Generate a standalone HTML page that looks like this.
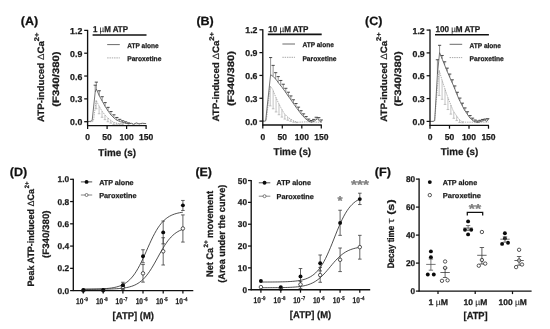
<!DOCTYPE html>
<html lang="en"><head><meta charset="utf-8"><title>ATP-induced calcium responses</title>
<style>
html,body{margin:0;padding:0;background:#fff}
body{width:550px;height:329px;overflow:hidden}
svg{display:block} text{stroke-width:0.25px}
</style></head><body>
<svg width="550" height="329" viewBox="0 0 550 329" text-rendering="geometricPrecision" font-family="'Liberation Sans', sans-serif">
<rect width="550" height="329" fill="#fff"/>
<path d="M96.18 100.39V108.76M94.88 108.76H97.48" stroke="#9c9c9c" stroke-width="0.6" fill="none"/>
<path d="M99.10 106.10V113.76M97.80 113.76H100.40" stroke="#9c9c9c" stroke-width="0.6" fill="none"/>
<path d="M102.03 111.10V117.29M100.73 117.29H103.33" stroke="#9c9c9c" stroke-width="0.6" fill="none"/>
<path d="M104.95 114.98V119.65M103.66 119.65H106.25" stroke="#9c9c9c" stroke-width="0.6" fill="none"/>
<path d="M107.88 118.07V121.75M106.58 121.75H109.18" stroke="#9c9c9c" stroke-width="0.6" fill="none"/>
<path d="M110.80 120.41V123.13M109.50 123.13H112.10" stroke="#9c9c9c" stroke-width="0.6" fill="none"/>
<path d="M113.73 122.46V124.41M112.43 124.41H115.03" stroke="#9c9c9c" stroke-width="0.6" fill="none"/>
<path d="M116.66 123.12V124.31M115.36 124.31H117.95" stroke="#9c9c9c" stroke-width="0.6" fill="none"/>
<path d="M119.58 123.56V124.67M118.28 124.67H120.88" stroke="#9c9c9c" stroke-width="0.6" fill="none"/>
<path d="M122.50 123.42V124.49M121.20 124.49H123.80" stroke="#9c9c9c" stroke-width="0.6" fill="none"/>
<path d="M87.60 121.70 L92.28 121.70 L93.45 120.94 L96.18 100.39 L99.30 106.48 L102.22 111.43 L105.15 115.23 L108.07 118.28 L111.00 120.56 L113.73 122.46 L118.80 123.60 L126.60 123.22 L134.40 123.98 L146.10 123.60" stroke="#9c9c9c" stroke-width="0.8" stroke-dasharray="1.4 0.9" fill="none"/>
<path d="M95.20 92.02V85.17" stroke="#4a4a4a" stroke-width="0.6" fill="none"/>
<path d="M93.61 85.17H96.80" stroke="#222" stroke-width="0.8" fill="none"/>
<path d="M96.34 88.98V82.13" stroke="#4a4a4a" stroke-width="0.6" fill="none"/>
<path d="M94.74 82.13H97.94" stroke="#222" stroke-width="0.8" fill="none"/>
<path d="M99.26 95.74V90.76" stroke="#4a4a4a" stroke-width="0.6" fill="none"/>
<path d="M97.66 90.76H100.86" stroke="#222" stroke-width="0.8" fill="none"/>
<path d="M102.19 101.08V96.70" stroke="#4a4a4a" stroke-width="0.6" fill="none"/>
<path d="M100.59 96.70H103.79" stroke="#222" stroke-width="0.8" fill="none"/>
<path d="M105.11 106.41V102.60" stroke="#4a4a4a" stroke-width="0.6" fill="none"/>
<path d="M103.51 102.60H106.71" stroke="#222" stroke-width="0.8" fill="none"/>
<path d="M108.04 110.99V107.37" stroke="#4a4a4a" stroke-width="0.6" fill="none"/>
<path d="M106.44 107.37H109.64" stroke="#222" stroke-width="0.8" fill="none"/>
<path d="M110.96 114.95V111.52" stroke="#4a4a4a" stroke-width="0.6" fill="none"/>
<path d="M109.36 111.52H112.56" stroke="#222" stroke-width="0.8" fill="none"/>
<path d="M113.89 117.86V114.81" stroke="#4a4a4a" stroke-width="0.6" fill="none"/>
<path d="M112.29 114.81H115.49" stroke="#222" stroke-width="0.8" fill="none"/>
<path d="M116.81 120.15V117.48" stroke="#4a4a4a" stroke-width="0.6" fill="none"/>
<path d="M115.21 117.48H118.41" stroke="#222" stroke-width="0.8" fill="none"/>
<path d="M119.74 121.43V119.33" stroke="#4a4a4a" stroke-width="0.6" fill="none"/>
<path d="M118.14 119.33H121.34" stroke="#222" stroke-width="0.8" fill="none"/>
<path d="M122.66 122.31V120.78" stroke="#4a4a4a" stroke-width="0.6" fill="none"/>
<path d="M121.06 120.78H124.26" stroke="#222" stroke-width="0.8" fill="none"/>
<path d="M125.59 123.12V121.82" stroke="#4a4a4a" stroke-width="0.6" fill="none"/>
<path d="M123.99 121.82H127.19" stroke="#222" stroke-width="0.8" fill="none"/>
<path d="M128.51 123.97V122.90" stroke="#4a4a4a" stroke-width="0.6" fill="none"/>
<path d="M126.91 122.90H130.11" stroke="#222" stroke-width="0.8" fill="none"/>
<path d="M87.60 121.70 L90.33 121.32 L92.16 120.56 L95.20 92.02 L96.34 88.98 L99.30 95.83 L102.22 101.15 L105.15 106.48 L108.07 111.05 L111.00 115.00 L113.92 117.90 L116.85 120.18 L120.36 121.70 L124.65 122.84 L128.55 123.98 L131.28 123.22 L133.62 124.36 L136.35 122.84 L139.08 123.98 L142.20 123.22 L146.10 123.60" stroke="#505050" stroke-width="0.8" fill="none" stroke-linejoin="round"/>
<path d="M87.60 29.88V126.10" stroke="#111" stroke-width="1.35" fill="none"/>
<path d="M87.10 125.60H146.60" stroke="#111" stroke-width="1.35" fill="none"/>
<path d="M84.20 121.70H87.60" stroke="#111" stroke-width="1.25" fill="none"/>
<text x="82.30" y="125.30" font-size="8.6" text-anchor="end" fill="#1a1a1a" stroke="#1a1a1a" font-weight="bold" textLength="12.20" lengthAdjust="spacingAndGlyphs" >0.0</text>
<path d="M84.20 98.87H87.60" stroke="#111" stroke-width="1.25" fill="none"/>
<text x="82.30" y="102.47" font-size="8.6" text-anchor="end" fill="#1a1a1a" stroke="#1a1a1a" font-weight="bold" textLength="12.20" lengthAdjust="spacingAndGlyphs" >0.3</text>
<path d="M84.20 76.04H87.60" stroke="#111" stroke-width="1.25" fill="none"/>
<text x="82.30" y="79.64" font-size="8.6" text-anchor="end" fill="#1a1a1a" stroke="#1a1a1a" font-weight="bold" textLength="12.20" lengthAdjust="spacingAndGlyphs" >0.6</text>
<path d="M84.20 53.21H87.60" stroke="#111" stroke-width="1.25" fill="none"/>
<text x="82.30" y="56.81" font-size="8.6" text-anchor="end" fill="#1a1a1a" stroke="#1a1a1a" font-weight="bold" textLength="12.20" lengthAdjust="spacingAndGlyphs" >0.9</text>
<path d="M84.20 30.38H87.60" stroke="#111" stroke-width="1.25" fill="none"/>
<text x="82.30" y="33.98" font-size="8.6" text-anchor="end" fill="#1a1a1a" stroke="#1a1a1a" font-weight="bold" textLength="12.20" lengthAdjust="spacingAndGlyphs" >1.2</text>
<path d="M87.60 125.60V129.00" stroke="#111" stroke-width="1.25" fill="none"/>
<text x="87.60" y="140.40" font-size="8.6" text-anchor="middle" fill="#1a1a1a" stroke="#1a1a1a" font-weight="bold" textLength="4.75" lengthAdjust="spacingAndGlyphs" >0</text>
<path d="M107.10 125.60V129.00" stroke="#111" stroke-width="1.25" fill="none"/>
<text x="107.10" y="140.40" font-size="8.6" text-anchor="middle" fill="#1a1a1a" stroke="#1a1a1a" font-weight="bold" textLength="9.50" lengthAdjust="spacingAndGlyphs" >50</text>
<path d="M126.60 125.60V129.00" stroke="#111" stroke-width="1.25" fill="none"/>
<text x="126.60" y="140.40" font-size="8.6" text-anchor="middle" fill="#1a1a1a" stroke="#1a1a1a" font-weight="bold" textLength="14.25" lengthAdjust="spacingAndGlyphs" >100</text>
<path d="M146.10 125.60V129.00" stroke="#111" stroke-width="1.25" fill="none"/>
<text x="146.10" y="140.40" font-size="8.6" text-anchor="middle" fill="#1a1a1a" stroke="#1a1a1a" font-weight="bold" textLength="14.25" lengthAdjust="spacingAndGlyphs" >150</text>
<text x="117.15" y="155.60" font-size="10.0" text-anchor="middle" fill="#1a1a1a" stroke="#1a1a1a" font-weight="bold" textLength="37.60" lengthAdjust="spacingAndGlyphs" >Time (s)</text>
<path d="M92.60 35.00H146.50" stroke="#111" stroke-width="1.6" fill="none"/>
<text x="93.00" y="32.20" font-size="8.5" text-anchor="start" fill="#1a1a1a" stroke="#1a1a1a" font-weight="bold" textLength="35.00" lengthAdjust="spacingAndGlyphs" >1 <tspan font-weight="normal" stroke-width="0.1">µ</tspan>M ATP</text>
<path d="M107.20 44.60H119.80" stroke="#5a5a5a" stroke-width="0.9" fill="none"/>
<path d="M107.20 57.90H119.80" stroke="#9c9c9c" stroke-width="0.9" stroke-dasharray="1.4 0.9" fill="none"/>
<text x="127.20" y="47.90" font-size="6.9" text-anchor="start" fill="#1a1a1a" stroke="#1a1a1a" font-weight="bold" textLength="31.40" lengthAdjust="spacingAndGlyphs" >ATP alone</text>
<text x="127.20" y="61.20" font-size="6.9" text-anchor="start" fill="#1a1a1a" stroke="#1a1a1a" font-weight="bold" textLength="34.20" lengthAdjust="spacingAndGlyphs" >Paroxetine</text>
<text transform="translate(44.20 122.10) rotate(-90)" font-size="9.3" font-weight="bold" fill="#1a1a1a" stroke="#1a1a1a" textLength="81.0" lengthAdjust="spacingAndGlyphs">ATP-induced <tspan font-weight="normal" stroke-width="0.1">Δ</tspan>Ca</text>
<text transform="translate(38.60 41.30) rotate(-90)" font-size="6.8" font-weight="bold" fill="#1a1a1a" stroke="#1a1a1a" textLength="8.6" lengthAdjust="spacingAndGlyphs">2+</text>
<text transform="translate(58.70 106.70) rotate(-90)" font-size="9.3" font-weight="bold" fill="#1a1a1a" stroke="#1a1a1a" textLength="55.2" lengthAdjust="spacingAndGlyphs">(F340/380)</text>
<text x="20.80" y="25.30" font-size="12.0" text-anchor="start" fill="#111" stroke="#111" font-weight="bold" textLength="17.40" lengthAdjust="spacingAndGlyphs" >(A)</text>
<path d="M270.21 86.09V105.88M268.91 105.88H271.51" stroke="#9c9c9c" stroke-width="0.6" fill="none"/>
<path d="M273.13 90.61V108.82M271.83 108.82H274.44" stroke="#9c9c9c" stroke-width="0.6" fill="none"/>
<path d="M276.06 97.70V111.97M274.76 111.97H277.36" stroke="#9c9c9c" stroke-width="0.6" fill="none"/>
<path d="M278.99 103.98V114.74M277.69 114.74H280.29" stroke="#9c9c9c" stroke-width="0.6" fill="none"/>
<path d="M281.91 109.49V117.10M280.61 117.10H283.21" stroke="#9c9c9c" stroke-width="0.6" fill="none"/>
<path d="M284.84 114.14V119.06M283.54 119.06H286.14" stroke="#9c9c9c" stroke-width="0.6" fill="none"/>
<path d="M287.76 117.10V120.24M286.46 120.24H289.06" stroke="#9c9c9c" stroke-width="0.6" fill="none"/>
<path d="M290.69 119.16V121.29M289.38 121.29H291.99" stroke="#9c9c9c" stroke-width="0.6" fill="none"/>
<path d="M293.61 120.87V122.24M292.31 122.24H294.91" stroke="#9c9c9c" stroke-width="0.6" fill="none"/>
<path d="M296.54 121.84V122.59M295.24 122.59H297.84" stroke="#9c9c9c" stroke-width="0.6" fill="none"/>
<path d="M262.80 121.10 L265.92 121.10 L266.31 120.34 L270.21 86.09 L272.55 89.14 L275.28 95.99 L278.40 102.84 L281.13 108.16 L284.25 113.49 L286.98 116.53 L290.10 118.82 L294.00 121.10 L297.90 122.24 L305.70 121.86 L321.30 122.24" stroke="#9c9c9c" stroke-width="0.8" stroke-dasharray="1.4 0.9" fill="none"/>
<path d="M270.60 74.68V57.56" stroke="#4a4a4a" stroke-width="0.6" fill="none"/>
<path d="M269.00 57.56H272.20" stroke="#222" stroke-width="0.8" fill="none"/>
<path d="M273.13 76.45V65.38" stroke="#4a4a4a" stroke-width="0.6" fill="none"/>
<path d="M271.53 65.38H274.74" stroke="#222" stroke-width="0.8" fill="none"/>
<path d="M275.67 79.15V72.68" stroke="#4a4a4a" stroke-width="0.6" fill="none"/>
<path d="M274.07 72.68H277.27" stroke="#222" stroke-width="0.8" fill="none"/>
<path d="M278.21 82.45V76.60" stroke="#4a4a4a" stroke-width="0.6" fill="none"/>
<path d="M276.61 76.60H279.81" stroke="#222" stroke-width="0.8" fill="none"/>
<path d="M280.74 85.71V80.46" stroke="#4a4a4a" stroke-width="0.6" fill="none"/>
<path d="M279.14 80.46H282.34" stroke="#222" stroke-width="0.8" fill="none"/>
<path d="M283.28 88.97V84.22" stroke="#4a4a4a" stroke-width="0.6" fill="none"/>
<path d="M281.68 84.22H284.88" stroke="#222" stroke-width="0.8" fill="none"/>
<path d="M285.81 92.56V88.30" stroke="#4a4a4a" stroke-width="0.6" fill="none"/>
<path d="M284.21 88.30H287.41" stroke="#222" stroke-width="0.8" fill="none"/>
<path d="M288.35 96.26V92.21" stroke="#4a4a4a" stroke-width="0.6" fill="none"/>
<path d="M286.75 92.21H289.95" stroke="#222" stroke-width="0.8" fill="none"/>
<path d="M290.88 99.79V95.91" stroke="#4a4a4a" stroke-width="0.6" fill="none"/>
<path d="M289.28 95.91H292.48" stroke="#222" stroke-width="0.8" fill="none"/>
<path d="M293.42 103.50V99.79" stroke="#4a4a4a" stroke-width="0.6" fill="none"/>
<path d="M291.81 99.79H295.02" stroke="#222" stroke-width="0.8" fill="none"/>
<path d="M295.95 107.08V103.52" stroke="#4a4a4a" stroke-width="0.6" fill="none"/>
<path d="M294.35 103.52H297.55" stroke="#222" stroke-width="0.8" fill="none"/>
<path d="M298.49 110.52V107.15" stroke="#4a4a4a" stroke-width="0.6" fill="none"/>
<path d="M296.88 107.15H300.09" stroke="#222" stroke-width="0.8" fill="none"/>
<path d="M301.02 113.82V110.70" stroke="#4a4a4a" stroke-width="0.6" fill="none"/>
<path d="M299.42 110.70H302.62" stroke="#222" stroke-width="0.8" fill="none"/>
<path d="M303.56 116.72V113.85" stroke="#4a4a4a" stroke-width="0.6" fill="none"/>
<path d="M301.95 113.85H305.16" stroke="#222" stroke-width="0.8" fill="none"/>
<path d="M306.09 119.14V116.56" stroke="#4a4a4a" stroke-width="0.6" fill="none"/>
<path d="M304.49 116.56H307.69" stroke="#222" stroke-width="0.8" fill="none"/>
<path d="M308.62 121.17V119.08" stroke="#4a4a4a" stroke-width="0.6" fill="none"/>
<path d="M307.02 119.08H310.23" stroke="#222" stroke-width="0.8" fill="none"/>
<path d="M311.16 122.10V120.50" stroke="#4a4a4a" stroke-width="0.6" fill="none"/>
<path d="M309.56 120.50H312.76" stroke="#222" stroke-width="0.8" fill="none"/>
<path d="M313.69 121.34V119.40" stroke="#4a4a4a" stroke-width="0.6" fill="none"/>
<path d="M312.09 119.40H315.30" stroke="#222" stroke-width="0.8" fill="none"/>
<path d="M316.23 119.67V117.24" stroke="#4a4a4a" stroke-width="0.6" fill="none"/>
<path d="M314.63 117.24H317.83" stroke="#222" stroke-width="0.8" fill="none"/>
<path d="M318.76 120.15V117.62" stroke="#4a4a4a" stroke-width="0.6" fill="none"/>
<path d="M317.16 117.62H320.37" stroke="#222" stroke-width="0.8" fill="none"/>
<path d="M321.30 122.24V119.96" stroke="#4a4a4a" stroke-width="0.6" fill="none"/>
<path d="M319.70 119.96H322.90" stroke="#222" stroke-width="0.8" fill="none"/>
<path d="M262.80 121.10 L264.75 121.10 L265.73 120.34 L270.60 74.68 L273.33 76.58 L276.45 80.01 L279.18 83.81 L282.30 87.62 L285.03 91.42 L288.15 95.99 L290.88 99.79 L294.00 104.36 L296.73 108.16 L299.85 112.35 L302.58 115.77 L305.70 118.82 L308.43 121.10 L311.55 122.24 L314.28 121.10 L317.40 118.82 L319.74 121.10 L321.30 122.24" stroke="#505050" stroke-width="0.8" fill="none" stroke-linejoin="round"/>
<path d="M262.80 29.28V125.50" stroke="#111" stroke-width="1.35" fill="none"/>
<path d="M262.30 125.00H321.80" stroke="#111" stroke-width="1.35" fill="none"/>
<path d="M259.40 121.10H262.80" stroke="#111" stroke-width="1.25" fill="none"/>
<text x="257.50" y="124.70" font-size="8.6" text-anchor="end" fill="#1a1a1a" stroke="#1a1a1a" font-weight="bold" textLength="12.20" lengthAdjust="spacingAndGlyphs" >0.0</text>
<path d="M259.40 98.27H262.80" stroke="#111" stroke-width="1.25" fill="none"/>
<text x="257.50" y="101.87" font-size="8.6" text-anchor="end" fill="#1a1a1a" stroke="#1a1a1a" font-weight="bold" textLength="12.20" lengthAdjust="spacingAndGlyphs" >0.3</text>
<path d="M259.40 75.44H262.80" stroke="#111" stroke-width="1.25" fill="none"/>
<text x="257.50" y="79.04" font-size="8.6" text-anchor="end" fill="#1a1a1a" stroke="#1a1a1a" font-weight="bold" textLength="12.20" lengthAdjust="spacingAndGlyphs" >0.6</text>
<path d="M259.40 52.61H262.80" stroke="#111" stroke-width="1.25" fill="none"/>
<text x="257.50" y="56.21" font-size="8.6" text-anchor="end" fill="#1a1a1a" stroke="#1a1a1a" font-weight="bold" textLength="12.20" lengthAdjust="spacingAndGlyphs" >0.9</text>
<path d="M259.40 29.78H262.80" stroke="#111" stroke-width="1.25" fill="none"/>
<text x="257.50" y="33.38" font-size="8.6" text-anchor="end" fill="#1a1a1a" stroke="#1a1a1a" font-weight="bold" textLength="12.20" lengthAdjust="spacingAndGlyphs" >1.2</text>
<path d="M262.80 125.00V128.40" stroke="#111" stroke-width="1.25" fill="none"/>
<text x="262.80" y="139.80" font-size="8.6" text-anchor="middle" fill="#1a1a1a" stroke="#1a1a1a" font-weight="bold" textLength="4.75" lengthAdjust="spacingAndGlyphs" >0</text>
<path d="M282.30 125.00V128.40" stroke="#111" stroke-width="1.25" fill="none"/>
<text x="282.30" y="139.80" font-size="8.6" text-anchor="middle" fill="#1a1a1a" stroke="#1a1a1a" font-weight="bold" textLength="9.50" lengthAdjust="spacingAndGlyphs" >50</text>
<path d="M301.80 125.00V128.40" stroke="#111" stroke-width="1.25" fill="none"/>
<text x="301.80" y="139.80" font-size="8.6" text-anchor="middle" fill="#1a1a1a" stroke="#1a1a1a" font-weight="bold" textLength="14.25" lengthAdjust="spacingAndGlyphs" >100</text>
<path d="M321.30 125.00V128.40" stroke="#111" stroke-width="1.25" fill="none"/>
<text x="321.30" y="139.80" font-size="8.6" text-anchor="middle" fill="#1a1a1a" stroke="#1a1a1a" font-weight="bold" textLength="14.25" lengthAdjust="spacingAndGlyphs" >150</text>
<text x="292.35" y="155.00" font-size="10.0" text-anchor="middle" fill="#1a1a1a" stroke="#1a1a1a" font-weight="bold" textLength="37.60" lengthAdjust="spacingAndGlyphs" >Time (s)</text>
<path d="M267.80 34.40H321.70" stroke="#111" stroke-width="1.6" fill="none"/>
<text x="268.20" y="31.60" font-size="8.5" text-anchor="start" fill="#1a1a1a" stroke="#1a1a1a" font-weight="bold" textLength="40.20" lengthAdjust="spacingAndGlyphs" >10 <tspan font-weight="normal" stroke-width="0.1">µ</tspan>M ATP</text>
<path d="M282.40 44.00H295.00" stroke="#5a5a5a" stroke-width="0.9" fill="none"/>
<path d="M282.40 57.30H295.00" stroke="#9c9c9c" stroke-width="0.9" stroke-dasharray="1.4 0.9" fill="none"/>
<text x="302.40" y="47.30" font-size="6.9" text-anchor="start" fill="#1a1a1a" stroke="#1a1a1a" font-weight="bold" textLength="31.40" lengthAdjust="spacingAndGlyphs" >ATP alone</text>
<text x="302.40" y="60.60" font-size="6.9" text-anchor="start" fill="#1a1a1a" stroke="#1a1a1a" font-weight="bold" textLength="34.20" lengthAdjust="spacingAndGlyphs" >Paroxetine</text>
<text transform="translate(219.40 121.50) rotate(-90)" font-size="9.3" font-weight="bold" fill="#1a1a1a" stroke="#1a1a1a" textLength="81.0" lengthAdjust="spacingAndGlyphs">ATP-induced <tspan font-weight="normal" stroke-width="0.1">Δ</tspan>Ca</text>
<text transform="translate(213.80 40.70) rotate(-90)" font-size="6.8" font-weight="bold" fill="#1a1a1a" stroke="#1a1a1a" textLength="8.6" lengthAdjust="spacingAndGlyphs">2+</text>
<text transform="translate(233.90 106.10) rotate(-90)" font-size="9.3" font-weight="bold" fill="#1a1a1a" stroke="#1a1a1a" textLength="55.2" lengthAdjust="spacingAndGlyphs">(F340/380)</text>
<text x="196.40" y="24.70" font-size="12.0" text-anchor="start" fill="#111" stroke="#111" font-weight="bold" textLength="17.40" lengthAdjust="spacingAndGlyphs" >(B)</text>
<path d="M439.17 70.41V95.53M437.87 95.53H440.47" stroke="#9c9c9c" stroke-width="0.6" fill="none"/>
<path d="M442.09 80.28V99.30M440.79 99.30H443.39" stroke="#9c9c9c" stroke-width="0.6" fill="none"/>
<path d="M445.01 89.07V104.43M443.71 104.43H446.31" stroke="#9c9c9c" stroke-width="0.6" fill="none"/>
<path d="M447.94 97.72V109.54M446.64 109.54H449.24" stroke="#9c9c9c" stroke-width="0.6" fill="none"/>
<path d="M450.87 104.98V114.13M449.56 114.13H452.17" stroke="#9c9c9c" stroke-width="0.6" fill="none"/>
<path d="M453.79 111.73V118.30M452.49 118.30H455.09" stroke="#9c9c9c" stroke-width="0.6" fill="none"/>
<path d="M456.71 116.06V120.60M455.41 120.60H458.01" stroke="#9c9c9c" stroke-width="0.6" fill="none"/>
<path d="M459.64 119.81V122.44M458.34 122.44H460.94" stroke="#9c9c9c" stroke-width="0.6" fill="none"/>
<path d="M462.56 121.61V122.68M461.26 122.68H463.87" stroke="#9c9c9c" stroke-width="0.6" fill="none"/>
<path d="M430.00 121.40 L433.12 121.40 L434.68 120.64 L437.41 87.16 L439.17 70.41 L442.32 81.07 L447.82 97.43 L453.28 110.97 L458.78 119.12 L461.59 121.40 L465.10 122.16 L488.50 122.16" stroke="#9c9c9c" stroke-width="0.8" stroke-dasharray="1.4 0.9" fill="none"/>
<path d="M437.41 74.22V59.76" stroke="#4a4a4a" stroke-width="0.6" fill="none"/>
<path d="M435.81 59.76H439.01" stroke="#222" stroke-width="0.8" fill="none"/>
<path d="M439.59 52.53V45.30" stroke="#4a4a4a" stroke-width="0.6" fill="none"/>
<path d="M437.99 45.30H441.19" stroke="#222" stroke-width="0.8" fill="none"/>
<path d="M442.13 58.89V55.47" stroke="#4a4a4a" stroke-width="0.6" fill="none"/>
<path d="M440.53 55.47H443.73" stroke="#222" stroke-width="0.8" fill="none"/>
<path d="M444.66 65.14V61.80" stroke="#4a4a4a" stroke-width="0.6" fill="none"/>
<path d="M443.06 61.80H446.26" stroke="#222" stroke-width="0.8" fill="none"/>
<path d="M447.20 71.39V68.13" stroke="#4a4a4a" stroke-width="0.6" fill="none"/>
<path d="M445.60 68.13H448.80" stroke="#222" stroke-width="0.8" fill="none"/>
<path d="M449.73 77.21V74.05" stroke="#4a4a4a" stroke-width="0.6" fill="none"/>
<path d="M448.13 74.05H451.33" stroke="#222" stroke-width="0.8" fill="none"/>
<path d="M452.27 82.90V79.82" stroke="#4a4a4a" stroke-width="0.6" fill="none"/>
<path d="M450.67 79.82H453.87" stroke="#222" stroke-width="0.8" fill="none"/>
<path d="M454.80 88.94V85.93" stroke="#4a4a4a" stroke-width="0.6" fill="none"/>
<path d="M453.20 85.93H456.40" stroke="#222" stroke-width="0.8" fill="none"/>
<path d="M457.34 95.22V92.28" stroke="#4a4a4a" stroke-width="0.6" fill="none"/>
<path d="M455.74 92.28H458.94" stroke="#222" stroke-width="0.8" fill="none"/>
<path d="M459.87 100.96V98.07" stroke="#4a4a4a" stroke-width="0.6" fill="none"/>
<path d="M458.27 98.07H461.47" stroke="#222" stroke-width="0.8" fill="none"/>
<path d="M462.41 105.98V103.15" stroke="#4a4a4a" stroke-width="0.6" fill="none"/>
<path d="M460.81 103.15H464.01" stroke="#222" stroke-width="0.8" fill="none"/>
<path d="M464.94 110.67V107.91" stroke="#4a4a4a" stroke-width="0.6" fill="none"/>
<path d="M463.34 107.91H466.54" stroke="#222" stroke-width="0.8" fill="none"/>
<path d="M467.48 114.45V111.75" stroke="#4a4a4a" stroke-width="0.6" fill="none"/>
<path d="M465.88 111.75H469.08" stroke="#222" stroke-width="0.8" fill="none"/>
<path d="M470.01 118.06V115.55" stroke="#4a4a4a" stroke-width="0.6" fill="none"/>
<path d="M468.41 115.55H471.61" stroke="#222" stroke-width="0.8" fill="none"/>
<path d="M472.55 120.28V118.13" stroke="#4a4a4a" stroke-width="0.6" fill="none"/>
<path d="M470.95 118.13H474.15" stroke="#222" stroke-width="0.8" fill="none"/>
<path d="M475.08 121.78V120.01" stroke="#4a4a4a" stroke-width="0.6" fill="none"/>
<path d="M473.48 120.01H476.68" stroke="#222" stroke-width="0.8" fill="none"/>
<path d="M477.62 122.53V121.01" stroke="#4a4a4a" stroke-width="0.6" fill="none"/>
<path d="M476.02 121.01H479.22" stroke="#222" stroke-width="0.8" fill="none"/>
<path d="M480.15 121.79V120.27" stroke="#4a4a4a" stroke-width="0.6" fill="none"/>
<path d="M478.55 120.27H481.75" stroke="#222" stroke-width="0.8" fill="none"/>
<path d="M482.69 120.96V119.44" stroke="#4a4a4a" stroke-width="0.6" fill="none"/>
<path d="M481.09 119.44H484.29" stroke="#222" stroke-width="0.8" fill="none"/>
<path d="M485.22 120.56V119.04" stroke="#4a4a4a" stroke-width="0.6" fill="none"/>
<path d="M483.62 119.04H486.82" stroke="#222" stroke-width="0.8" fill="none"/>
<path d="M487.76 120.20V118.68" stroke="#4a4a4a" stroke-width="0.6" fill="none"/>
<path d="M486.16 118.68H489.36" stroke="#222" stroke-width="0.8" fill="none"/>
<path d="M430.00 121.40 L433.12 121.40 L434.68 120.64 L437.41 74.22 L439.59 52.53 L442.32 59.38 L447.82 72.92 L453.28 85.18 L458.78 98.80 L464.28 109.68 L469.74 117.82 L473.84 121.40 L477.58 122.54 L481.48 121.40 L484.60 120.26 L486.94 121.40 L488.50 119.12" stroke="#505050" stroke-width="0.8" fill="none" stroke-linejoin="round"/>
<path d="M430.00 29.58V125.80" stroke="#111" stroke-width="1.35" fill="none"/>
<path d="M429.50 125.30H489.00" stroke="#111" stroke-width="1.35" fill="none"/>
<path d="M426.60 121.40H430.00" stroke="#111" stroke-width="1.25" fill="none"/>
<text x="424.70" y="125.00" font-size="8.6" text-anchor="end" fill="#1a1a1a" stroke="#1a1a1a" font-weight="bold" textLength="12.20" lengthAdjust="spacingAndGlyphs" >0.0</text>
<path d="M426.60 98.57H430.00" stroke="#111" stroke-width="1.25" fill="none"/>
<text x="424.70" y="102.17" font-size="8.6" text-anchor="end" fill="#1a1a1a" stroke="#1a1a1a" font-weight="bold" textLength="12.20" lengthAdjust="spacingAndGlyphs" >0.3</text>
<path d="M426.60 75.74H430.00" stroke="#111" stroke-width="1.25" fill="none"/>
<text x="424.70" y="79.34" font-size="8.6" text-anchor="end" fill="#1a1a1a" stroke="#1a1a1a" font-weight="bold" textLength="12.20" lengthAdjust="spacingAndGlyphs" >0.6</text>
<path d="M426.60 52.91H430.00" stroke="#111" stroke-width="1.25" fill="none"/>
<text x="424.70" y="56.51" font-size="8.6" text-anchor="end" fill="#1a1a1a" stroke="#1a1a1a" font-weight="bold" textLength="12.20" lengthAdjust="spacingAndGlyphs" >0.9</text>
<path d="M426.60 30.08H430.00" stroke="#111" stroke-width="1.25" fill="none"/>
<text x="424.70" y="33.68" font-size="8.6" text-anchor="end" fill="#1a1a1a" stroke="#1a1a1a" font-weight="bold" textLength="12.20" lengthAdjust="spacingAndGlyphs" >1.2</text>
<path d="M430.00 125.30V128.70" stroke="#111" stroke-width="1.25" fill="none"/>
<text x="430.00" y="140.10" font-size="8.6" text-anchor="middle" fill="#1a1a1a" stroke="#1a1a1a" font-weight="bold" textLength="4.75" lengthAdjust="spacingAndGlyphs" >0</text>
<path d="M449.50 125.30V128.70" stroke="#111" stroke-width="1.25" fill="none"/>
<text x="449.50" y="140.10" font-size="8.6" text-anchor="middle" fill="#1a1a1a" stroke="#1a1a1a" font-weight="bold" textLength="9.50" lengthAdjust="spacingAndGlyphs" >50</text>
<path d="M469.00 125.30V128.70" stroke="#111" stroke-width="1.25" fill="none"/>
<text x="469.00" y="140.10" font-size="8.6" text-anchor="middle" fill="#1a1a1a" stroke="#1a1a1a" font-weight="bold" textLength="14.25" lengthAdjust="spacingAndGlyphs" >100</text>
<path d="M488.50 125.30V128.70" stroke="#111" stroke-width="1.25" fill="none"/>
<text x="488.50" y="140.10" font-size="8.6" text-anchor="middle" fill="#1a1a1a" stroke="#1a1a1a" font-weight="bold" textLength="14.25" lengthAdjust="spacingAndGlyphs" >150</text>
<text x="459.55" y="155.30" font-size="10.0" text-anchor="middle" fill="#1a1a1a" stroke="#1a1a1a" font-weight="bold" textLength="37.60" lengthAdjust="spacingAndGlyphs" >Time (s)</text>
<path d="M435.00 34.70H488.90" stroke="#111" stroke-width="1.6" fill="none"/>
<text x="435.40" y="31.90" font-size="8.5" text-anchor="start" fill="#1a1a1a" stroke="#1a1a1a" font-weight="bold" textLength="44.80" lengthAdjust="spacingAndGlyphs" >100 <tspan font-weight="normal" stroke-width="0.1">µ</tspan>M ATP</text>
<path d="M449.60 44.30H462.20" stroke="#5a5a5a" stroke-width="0.9" fill="none"/>
<path d="M449.60 57.60H462.20" stroke="#9c9c9c" stroke-width="0.9" stroke-dasharray="1.4 0.9" fill="none"/>
<text x="469.60" y="47.60" font-size="6.9" text-anchor="start" fill="#1a1a1a" stroke="#1a1a1a" font-weight="bold" textLength="31.40" lengthAdjust="spacingAndGlyphs" >ATP alone</text>
<text x="469.60" y="60.90" font-size="6.9" text-anchor="start" fill="#1a1a1a" stroke="#1a1a1a" font-weight="bold" textLength="34.20" lengthAdjust="spacingAndGlyphs" >Paroxetine</text>
<text transform="translate(386.60 121.80) rotate(-90)" font-size="9.3" font-weight="bold" fill="#1a1a1a" stroke="#1a1a1a" textLength="81.0" lengthAdjust="spacingAndGlyphs">ATP-induced <tspan font-weight="normal" stroke-width="0.1">Δ</tspan>Ca</text>
<text transform="translate(381.00 41.00) rotate(-90)" font-size="6.8" font-weight="bold" fill="#1a1a1a" stroke="#1a1a1a" textLength="8.6" lengthAdjust="spacingAndGlyphs">2+</text>
<text transform="translate(401.10 106.40) rotate(-90)" font-size="9.3" font-weight="bold" fill="#1a1a1a" stroke="#1a1a1a" textLength="55.2" lengthAdjust="spacingAndGlyphs">(F340/380)</text>
<text x="365.10" y="25.00" font-size="12.0" text-anchor="start" fill="#111" stroke="#111" font-weight="bold" textLength="17.40" lengthAdjust="spacingAndGlyphs" >(C)</text>
<path d="M83.30 289.21 L84.96 289.20 L86.62 289.19 L88.28 289.17 L89.93 289.16 L91.59 289.13 L93.25 289.10 L94.91 289.07 L96.57 289.03 L98.22 288.98 L99.88 288.92 L101.54 288.85 L103.20 288.76 L104.86 288.66 L106.52 288.53 L108.18 288.38 L109.83 288.19 L111.49 287.97 L113.15 287.70 L114.81 287.38 L116.47 286.99 L118.12 286.52 L119.78 285.97 L121.44 285.31 L123.10 284.52 L124.76 283.59 L126.42 282.49 L128.08 281.21 L129.73 279.71 L131.39 277.98 L133.05 276.00 L134.71 273.75 L136.37 271.22 L138.03 268.42 L139.68 265.36 L141.34 262.06 L143.00 258.57 L144.66 254.92 L146.32 251.19 L147.98 247.44 L149.63 243.74 L151.29 240.16 L152.95 236.74 L154.61 233.55 L156.27 230.60 L157.93 227.92 L159.58 225.51 L161.24 223.38 L162.90 221.51 L164.56 219.89 L166.22 218.49 L167.88 217.29 L169.53 216.27 L171.19 215.40 L172.85 214.67 L174.51 214.06 L176.17 213.55 L177.83 213.12 L179.48 212.76 L181.14 212.46 L182.80 212.21" stroke="#222" stroke-width="0.8" fill="none"/>
<path d="M83.30 289.25 L84.96 289.25 L86.62 289.25 L88.28 289.24 L89.93 289.24 L91.59 289.23 L93.25 289.23 L94.91 289.22 L96.57 289.21 L98.22 289.20 L99.88 289.19 L101.54 289.17 L103.20 289.15 L104.86 289.12 L106.52 289.09 L108.18 289.06 L109.83 289.01 L111.49 288.96 L113.15 288.90 L114.81 288.82 L116.47 288.73 L118.12 288.62 L119.78 288.48 L121.44 288.32 L123.10 288.12 L124.76 287.89 L126.42 287.60 L128.08 287.26 L129.73 286.85 L131.39 286.37 L133.05 285.79 L134.71 285.10 L136.37 284.29 L138.03 283.33 L139.68 282.22 L141.34 280.93 L143.00 279.44 L144.66 277.74 L146.32 275.82 L147.98 273.67 L149.63 271.31 L151.29 268.75 L152.95 266.00 L154.61 263.12 L156.27 260.14 L157.93 257.11 L159.58 254.09 L161.24 251.14 L162.90 248.30 L164.56 245.62 L166.22 243.12 L167.88 240.84 L169.53 238.78 L171.19 236.94 L172.85 235.31 L174.51 233.90 L176.17 232.67 L177.83 231.62 L179.48 230.71 L181.14 229.95 L182.80 229.30" stroke="#222" stroke-width="0.8" fill="none"/>
<path d="M122.90 284.48V289.49M121.10 284.48H124.70M121.10 289.49H124.70" stroke="#3c3c3c" stroke-width="0.8" fill="none"/>
<path d="M143.00 264.56V282.14M141.20 264.56H144.80M141.20 282.14H144.80" stroke="#3c3c3c" stroke-width="0.8" fill="none"/>
<path d="M163.20 237.73V265.00M161.40 237.73H165.00M161.40 265.00H165.00" stroke="#3c3c3c" stroke-width="0.8" fill="none"/>
<path d="M182.90 214.92V242.07M181.10 214.92H184.70M181.10 242.07H184.70" stroke="#3c3c3c" stroke-width="0.8" fill="none"/>
<path d="M122.90 282.25V288.37M121.10 282.25H124.70M121.10 288.37H124.70" stroke="#3c3c3c" stroke-width="0.8" fill="none"/>
<path d="M143.00 249.75V262.78M141.20 249.75H144.80M141.20 262.78H144.80" stroke="#3c3c3c" stroke-width="0.8" fill="none"/>
<path d="M163.20 221.04V243.85M161.40 221.04H165.00M161.40 243.85H165.00" stroke="#3c3c3c" stroke-width="0.8" fill="none"/>
<path d="M182.90 200.45V210.46M181.10 200.45H184.70M181.10 210.46H184.70" stroke="#3c3c3c" stroke-width="0.8" fill="none"/>
<circle cx="83.30" cy="290.60" r="1.75" fill="#fff" stroke="#222" stroke-width="0.75"/>
<circle cx="103.20" cy="290.38" r="1.75" fill="#fff" stroke="#222" stroke-width="0.75"/>
<circle cx="122.90" cy="286.93" r="1.75" fill="#fff" stroke="#222" stroke-width="0.75"/>
<circle cx="143.00" cy="273.35" r="1.75" fill="#fff" stroke="#222" stroke-width="0.75"/>
<circle cx="163.20" cy="251.31" r="1.75" fill="#fff" stroke="#222" stroke-width="0.75"/>
<circle cx="182.90" cy="228.49" r="1.75" fill="#fff" stroke="#222" stroke-width="0.75"/>
<circle cx="83.30" cy="290.04" r="1.95" fill="#0a0a0a"/>
<circle cx="103.20" cy="289.93" r="1.95" fill="#0a0a0a"/>
<circle cx="122.90" cy="285.26" r="1.95" fill="#0a0a0a"/>
<circle cx="143.00" cy="256.32" r="1.95" fill="#0a0a0a"/>
<circle cx="163.20" cy="232.39" r="1.95" fill="#0a0a0a"/>
<circle cx="182.90" cy="205.34" r="1.95" fill="#0a0a0a"/>
<path d="M73.30 178.80V291.10" stroke="#111" stroke-width="1.35" fill="none"/>
<path d="M72.80 290.60H193.30" stroke="#111" stroke-width="1.35" fill="none"/>
<path d="M70.10 290.60H73.30" stroke="#111" stroke-width="1.25" fill="none"/>
<text x="69.10" y="293.70" font-size="8.4" text-anchor="end" fill="#1a1a1a" stroke="#1a1a1a" font-weight="bold" textLength="11.60" lengthAdjust="spacingAndGlyphs" >0.0</text>
<path d="M70.10 268.34H73.30" stroke="#111" stroke-width="1.25" fill="none"/>
<text x="69.10" y="271.44" font-size="8.4" text-anchor="end" fill="#1a1a1a" stroke="#1a1a1a" font-weight="bold" textLength="11.60" lengthAdjust="spacingAndGlyphs" >0.2</text>
<path d="M70.10 246.08H73.30" stroke="#111" stroke-width="1.25" fill="none"/>
<text x="69.10" y="249.18" font-size="8.4" text-anchor="end" fill="#1a1a1a" stroke="#1a1a1a" font-weight="bold" textLength="11.60" lengthAdjust="spacingAndGlyphs" >0.4</text>
<path d="M70.10 223.82H73.30" stroke="#111" stroke-width="1.25" fill="none"/>
<text x="69.10" y="226.92" font-size="8.4" text-anchor="end" fill="#1a1a1a" stroke="#1a1a1a" font-weight="bold" textLength="11.60" lengthAdjust="spacingAndGlyphs" >0.6</text>
<path d="M70.10 201.56H73.30" stroke="#111" stroke-width="1.25" fill="none"/>
<text x="69.10" y="204.66" font-size="8.4" text-anchor="end" fill="#1a1a1a" stroke="#1a1a1a" font-weight="bold" textLength="11.60" lengthAdjust="spacingAndGlyphs" >0.8</text>
<path d="M70.10 179.30H73.30" stroke="#111" stroke-width="1.25" fill="none"/>
<text x="69.10" y="182.40" font-size="8.4" text-anchor="end" fill="#1a1a1a" stroke="#1a1a1a" font-weight="bold" textLength="11.60" lengthAdjust="spacingAndGlyphs" >1.0</text>
<path d="M83.30 290.60V293.60" stroke="#111" stroke-width="1.25" fill="none"/>
<path d="M103.20 290.60V293.60" stroke="#111" stroke-width="1.25" fill="none"/>
<path d="M122.90 290.60V293.60" stroke="#111" stroke-width="1.25" fill="none"/>
<path d="M143.00 290.60V293.60" stroke="#111" stroke-width="1.25" fill="none"/>
<path d="M163.20 290.60V293.60" stroke="#111" stroke-width="1.25" fill="none"/>
<path d="M182.90 290.60V293.60" stroke="#111" stroke-width="1.25" fill="none"/>
<text x="76.00" y="304.20" font-size="8.3" font-weight="bold" fill="#1a1a1a" stroke="#1a1a1a" textLength="7.3" lengthAdjust="spacingAndGlyphs">10</text>
<text x="84.00" y="301.10" font-size="5.4" font-weight="bold" fill="#1a1a1a" stroke="#1a1a1a" textLength="3.9" lengthAdjust="spacingAndGlyphs">-9</text>
<text x="95.90" y="304.20" font-size="8.3" font-weight="bold" fill="#1a1a1a" stroke="#1a1a1a" textLength="7.3" lengthAdjust="spacingAndGlyphs">10</text>
<text x="103.90" y="301.10" font-size="5.4" font-weight="bold" fill="#1a1a1a" stroke="#1a1a1a" textLength="3.9" lengthAdjust="spacingAndGlyphs">-8</text>
<text x="115.60" y="304.20" font-size="8.3" font-weight="bold" fill="#1a1a1a" stroke="#1a1a1a" textLength="7.3" lengthAdjust="spacingAndGlyphs">10</text>
<text x="123.60" y="301.10" font-size="5.4" font-weight="bold" fill="#1a1a1a" stroke="#1a1a1a" textLength="3.9" lengthAdjust="spacingAndGlyphs">-7</text>
<text x="135.70" y="304.20" font-size="8.3" font-weight="bold" fill="#1a1a1a" stroke="#1a1a1a" textLength="7.3" lengthAdjust="spacingAndGlyphs">10</text>
<text x="143.70" y="301.10" font-size="5.4" font-weight="bold" fill="#1a1a1a" stroke="#1a1a1a" textLength="3.9" lengthAdjust="spacingAndGlyphs">-6</text>
<text x="155.90" y="304.20" font-size="8.3" font-weight="bold" fill="#1a1a1a" stroke="#1a1a1a" textLength="7.3" lengthAdjust="spacingAndGlyphs">10</text>
<text x="163.90" y="301.10" font-size="5.4" font-weight="bold" fill="#1a1a1a" stroke="#1a1a1a" textLength="3.9" lengthAdjust="spacingAndGlyphs">-5</text>
<text x="175.60" y="304.20" font-size="8.3" font-weight="bold" fill="#1a1a1a" stroke="#1a1a1a" textLength="7.3" lengthAdjust="spacingAndGlyphs">10</text>
<text x="183.60" y="301.10" font-size="5.4" font-weight="bold" fill="#1a1a1a" stroke="#1a1a1a" textLength="3.9" lengthAdjust="spacingAndGlyphs">-4</text>
<text x="133.30" y="319.00" font-size="10.0" text-anchor="middle" fill="#1a1a1a" stroke="#1a1a1a" font-weight="bold" textLength="41.40" lengthAdjust="spacingAndGlyphs" >[ATP] (M)</text>
<path d="M80.90 181.90H92.20" stroke="#222" stroke-width="0.8" fill="none"/>
<path d="M80.90 195.00H92.20" stroke="#666" stroke-width="0.8" fill="none"/>
<circle cx="86.55" cy="181.90" r="1.95" fill="#0a0a0a"/>
<circle cx="86.55" cy="195.00" r="1.5" fill="#fff" stroke="#555" stroke-width="0.75"/>
<text x="99.20" y="184.50" font-size="7.2" text-anchor="start" fill="#1a1a1a" stroke="#1a1a1a" font-weight="bold" textLength="34.40" lengthAdjust="spacingAndGlyphs" >ATP alone</text>
<text x="99.20" y="197.60" font-size="7.2" text-anchor="start" fill="#1a1a1a" stroke="#1a1a1a" font-weight="bold" textLength="37.30" lengthAdjust="spacingAndGlyphs" >Paroxetine</text>
<text transform="translate(34.0 286.4) rotate(-90)" font-size="9.3" font-weight="bold" fill="#1a1a1a" stroke="#1a1a1a" textLength="97.3" lengthAdjust="spacingAndGlyphs">Peak ATP-induced <tspan font-weight="normal" stroke-width="0.1">Δ</tspan>Ca</text>
<text transform="translate(28.8 188.2) rotate(-90)" font-size="6.3" font-weight="bold" fill="#1a1a1a" stroke="#1a1a1a" textLength="6.6" lengthAdjust="spacingAndGlyphs">2+</text>
<text transform="translate(49.2 258.0) rotate(-90)" font-size="9.3" font-weight="bold" fill="#1a1a1a" stroke="#1a1a1a" textLength="47.6" lengthAdjust="spacingAndGlyphs">(F340/380)</text>
<text x="9.80" y="175.80" font-size="12.0" text-anchor="start" fill="#111" stroke="#111" font-weight="bold" textLength="17.40" lengthAdjust="spacingAndGlyphs" >(D)</text>
<path d="M260.90 282.04 L262.56 282.04 L264.22 282.03 L265.88 282.03 L267.53 282.02 L269.19 282.01 L270.85 282.00 L272.51 281.99 L274.17 281.97 L275.82 281.96 L277.48 281.94 L279.14 281.91 L280.80 281.88 L282.46 281.84 L284.12 281.79 L285.78 281.74 L287.43 281.67 L289.09 281.59 L290.75 281.49 L292.41 281.37 L294.07 281.22 L295.73 281.05 L297.38 280.83 L299.04 280.58 L300.70 280.27 L302.36 279.90 L304.02 279.46 L305.68 278.93 L307.33 278.30 L308.99 277.54 L310.65 276.65 L312.31 275.59 L313.97 274.34 L315.63 272.88 L317.28 271.18 L318.94 269.22 L320.60 266.97 L322.26 264.42 L323.92 261.57 L325.58 258.41 L327.23 254.95 L328.89 251.24 L330.55 247.32 L332.21 243.24 L333.87 239.07 L335.53 234.89 L337.18 230.77 L338.84 226.79 L340.50 223.00 L342.16 219.47 L343.82 216.21 L345.48 213.26 L347.13 210.61 L348.79 208.27 L350.45 206.22 L352.11 204.44 L353.77 202.90 L355.43 201.59 L357.08 200.47 L358.74 199.53 L360.40 198.73" stroke="#222" stroke-width="0.8" fill="none"/>
<path d="M260.90 287.72 L262.56 287.72 L264.22 287.72 L265.88 287.71 L267.53 287.71 L269.19 287.70 L270.85 287.69 L272.51 287.68 L274.17 287.67 L275.82 287.66 L277.48 287.64 L279.14 287.62 L280.80 287.60 L282.46 287.57 L284.12 287.53 L285.78 287.49 L287.43 287.44 L289.09 287.38 L290.75 287.30 L292.41 287.21 L294.07 287.10 L295.73 286.97 L297.38 286.82 L299.04 286.63 L300.70 286.40 L302.36 286.13 L304.02 285.80 L305.68 285.42 L307.33 284.96 L308.99 284.42 L310.65 283.78 L312.31 283.04 L313.97 282.18 L315.63 281.19 L317.28 280.06 L318.94 278.79 L320.60 277.36 L322.26 275.80 L323.92 274.10 L325.58 272.28 L327.23 270.37 L328.89 268.41 L330.55 266.41 L332.21 264.42 L333.87 262.48 L335.53 260.61 L337.18 258.85 L338.84 257.21 L340.50 255.71 L342.16 254.36 L343.82 253.15 L345.48 252.09 L347.13 251.17 L348.79 250.36 L350.45 249.67 L352.11 249.09 L353.77 248.59 L355.43 248.17 L357.08 247.81 L358.74 247.51 L360.40 247.26" stroke="#222" stroke-width="0.8" fill="none"/>
<path d="M300.50 281.62V288.39M298.70 281.62H302.30M298.70 288.39H302.30" stroke="#3c3c3c" stroke-width="0.8" fill="none"/>
<path d="M320.20 267.43V282.28M318.40 267.43H322.00M318.40 282.28H322.00" stroke="#3c3c3c" stroke-width="0.8" fill="none"/>
<path d="M340.10 248.00V271.58M338.30 248.00H341.90M338.30 271.58H341.90" stroke="#3c3c3c" stroke-width="0.8" fill="none"/>
<path d="M359.80 235.34V259.14M358.00 235.34H361.60M358.00 259.14H361.60" stroke="#3c3c3c" stroke-width="0.8" fill="none"/>
<path d="M300.50 268.52V284.46M298.70 268.52H302.30M298.70 284.46H302.30" stroke="#3c3c3c" stroke-width="0.8" fill="none"/>
<path d="M320.20 254.99V270.93M318.40 254.99H322.00M318.40 270.93H322.00" stroke="#3c3c3c" stroke-width="0.8" fill="none"/>
<path d="M340.10 210.24V235.34M338.30 210.24H341.90M338.30 235.34H341.90" stroke="#3c3c3c" stroke-width="0.8" fill="none"/>
<path d="M359.80 193.21V204.56M358.00 193.21H361.60M358.00 204.56H361.60" stroke="#3c3c3c" stroke-width="0.8" fill="none"/>
<circle cx="260.90" cy="287.08" r="1.75" fill="#fff" stroke="#222" stroke-width="0.75"/>
<circle cx="280.80" cy="288.83" r="1.75" fill="#fff" stroke="#222" stroke-width="0.75"/>
<circle cx="300.50" cy="284.46" r="1.75" fill="#fff" stroke="#222" stroke-width="0.75"/>
<circle cx="320.20" cy="275.07" r="1.75" fill="#fff" stroke="#222" stroke-width="0.75"/>
<circle cx="340.10" cy="259.79" r="1.75" fill="#fff" stroke="#222" stroke-width="0.75"/>
<circle cx="359.80" cy="247.13" r="1.75" fill="#fff" stroke="#222" stroke-width="0.75"/>
<circle cx="260.90" cy="280.97" r="1.95" fill="#0a0a0a"/>
<circle cx="280.80" cy="287.08" r="1.95" fill="#0a0a0a"/>
<circle cx="300.50" cy="276.38" r="1.95" fill="#0a0a0a"/>
<circle cx="320.20" cy="263.29" r="1.95" fill="#0a0a0a"/>
<circle cx="340.10" cy="222.90" r="1.95" fill="#0a0a0a"/>
<circle cx="359.80" cy="199.11" r="1.95" fill="#0a0a0a"/>
<path d="M251.20 180.05V290.20" stroke="#111" stroke-width="1.35" fill="none"/>
<path d="M250.70 289.70H370.20" stroke="#111" stroke-width="1.35" fill="none"/>
<path d="M248.00 289.70H251.20" stroke="#111" stroke-width="1.25" fill="none"/>
<text x="247.00" y="292.80" font-size="8.4" text-anchor="end" fill="#1a1a1a" stroke="#1a1a1a" font-weight="bold" textLength="4.60" lengthAdjust="spacingAndGlyphs" >0</text>
<path d="M248.00 267.87H251.20" stroke="#111" stroke-width="1.25" fill="none"/>
<text x="247.00" y="270.97" font-size="8.4" text-anchor="end" fill="#1a1a1a" stroke="#1a1a1a" font-weight="bold" textLength="9.20" lengthAdjust="spacingAndGlyphs" >10</text>
<path d="M248.00 246.04H251.20" stroke="#111" stroke-width="1.25" fill="none"/>
<text x="247.00" y="249.14" font-size="8.4" text-anchor="end" fill="#1a1a1a" stroke="#1a1a1a" font-weight="bold" textLength="9.20" lengthAdjust="spacingAndGlyphs" >20</text>
<path d="M248.00 224.21H251.20" stroke="#111" stroke-width="1.25" fill="none"/>
<text x="247.00" y="227.31" font-size="8.4" text-anchor="end" fill="#1a1a1a" stroke="#1a1a1a" font-weight="bold" textLength="9.20" lengthAdjust="spacingAndGlyphs" >30</text>
<path d="M248.00 202.38H251.20" stroke="#111" stroke-width="1.25" fill="none"/>
<text x="247.00" y="205.48" font-size="8.4" text-anchor="end" fill="#1a1a1a" stroke="#1a1a1a" font-weight="bold" textLength="9.20" lengthAdjust="spacingAndGlyphs" >40</text>
<path d="M248.00 180.55H251.20" stroke="#111" stroke-width="1.25" fill="none"/>
<text x="247.00" y="183.65" font-size="8.4" text-anchor="end" fill="#1a1a1a" stroke="#1a1a1a" font-weight="bold" textLength="9.20" lengthAdjust="spacingAndGlyphs" >50</text>
<path d="M260.90 289.70V292.70" stroke="#111" stroke-width="1.25" fill="none"/>
<path d="M280.80 289.70V292.70" stroke="#111" stroke-width="1.25" fill="none"/>
<path d="M300.50 289.70V292.70" stroke="#111" stroke-width="1.25" fill="none"/>
<path d="M320.20 289.70V292.70" stroke="#111" stroke-width="1.25" fill="none"/>
<path d="M340.10 289.70V292.70" stroke="#111" stroke-width="1.25" fill="none"/>
<path d="M359.80 289.70V292.70" stroke="#111" stroke-width="1.25" fill="none"/>
<text x="253.60" y="303.30" font-size="8.3" font-weight="bold" fill="#1a1a1a" stroke="#1a1a1a" textLength="7.3" lengthAdjust="spacingAndGlyphs">10</text>
<text x="261.60" y="300.20" font-size="5.4" font-weight="bold" fill="#1a1a1a" stroke="#1a1a1a" textLength="3.9" lengthAdjust="spacingAndGlyphs">-9</text>
<text x="273.50" y="303.30" font-size="8.3" font-weight="bold" fill="#1a1a1a" stroke="#1a1a1a" textLength="7.3" lengthAdjust="spacingAndGlyphs">10</text>
<text x="281.50" y="300.20" font-size="5.4" font-weight="bold" fill="#1a1a1a" stroke="#1a1a1a" textLength="3.9" lengthAdjust="spacingAndGlyphs">-8</text>
<text x="293.20" y="303.30" font-size="8.3" font-weight="bold" fill="#1a1a1a" stroke="#1a1a1a" textLength="7.3" lengthAdjust="spacingAndGlyphs">10</text>
<text x="301.20" y="300.20" font-size="5.4" font-weight="bold" fill="#1a1a1a" stroke="#1a1a1a" textLength="3.9" lengthAdjust="spacingAndGlyphs">-7</text>
<text x="312.90" y="303.30" font-size="8.3" font-weight="bold" fill="#1a1a1a" stroke="#1a1a1a" textLength="7.3" lengthAdjust="spacingAndGlyphs">10</text>
<text x="320.90" y="300.20" font-size="5.4" font-weight="bold" fill="#1a1a1a" stroke="#1a1a1a" textLength="3.9" lengthAdjust="spacingAndGlyphs">-6</text>
<text x="332.80" y="303.30" font-size="8.3" font-weight="bold" fill="#1a1a1a" stroke="#1a1a1a" textLength="7.3" lengthAdjust="spacingAndGlyphs">10</text>
<text x="340.80" y="300.20" font-size="5.4" font-weight="bold" fill="#1a1a1a" stroke="#1a1a1a" textLength="3.9" lengthAdjust="spacingAndGlyphs">-5</text>
<text x="352.50" y="303.30" font-size="8.3" font-weight="bold" fill="#1a1a1a" stroke="#1a1a1a" textLength="7.3" lengthAdjust="spacingAndGlyphs">10</text>
<text x="360.50" y="300.20" font-size="5.4" font-weight="bold" fill="#1a1a1a" stroke="#1a1a1a" textLength="3.9" lengthAdjust="spacingAndGlyphs">-4</text>
<text x="310.55" y="318.10" font-size="10.0" text-anchor="middle" fill="#1a1a1a" stroke="#1a1a1a" font-weight="bold" textLength="41.40" lengthAdjust="spacingAndGlyphs" >[ATP] (M)</text>
<path d="M258.80 182.80H270.30" stroke="#222" stroke-width="0.8" fill="none"/>
<path d="M258.80 196.20H270.30" stroke="#666" stroke-width="0.8" fill="none"/>
<circle cx="264.55" cy="182.80" r="1.95" fill="#0a0a0a"/>
<circle cx="264.55" cy="196.20" r="1.5" fill="#fff" stroke="#555" stroke-width="0.75"/>
<text x="276.60" y="185.40" font-size="7.2" text-anchor="start" fill="#1a1a1a" stroke="#1a1a1a" font-weight="bold" textLength="34.40" lengthAdjust="spacingAndGlyphs" >ATP alone</text>
<text x="276.60" y="198.80" font-size="7.2" text-anchor="start" fill="#1a1a1a" stroke="#1a1a1a" font-weight="bold" textLength="37.30" lengthAdjust="spacingAndGlyphs" >Paroxetine</text>
<text transform="translate(213.3 277.0) rotate(-90)" font-size="9.6" font-weight="bold" fill="#1a1a1a" stroke="#1a1a1a" textLength="29.2" lengthAdjust="spacingAndGlyphs">Net Ca</text>
<text transform="translate(207.6 247.6) rotate(-90)" font-size="6.2" font-weight="bold" fill="#1a1a1a" stroke="#1a1a1a" textLength="7.2" lengthAdjust="spacingAndGlyphs">2+</text>
<text transform="translate(213.3 237.9) rotate(-90)" font-size="9.6" font-weight="bold" fill="#1a1a1a" stroke="#1a1a1a" textLength="46.9" lengthAdjust="spacingAndGlyphs">movement</text>
<text transform="translate(225.4 282.7) rotate(-90)" font-size="9.6" font-weight="bold" fill="#1a1a1a" stroke="#1a1a1a" textLength="98.1" lengthAdjust="spacingAndGlyphs">(Area under the curve)</text>
<text x="195.40" y="176.00" font-size="12.0" text-anchor="start" fill="#111" stroke="#111" font-weight="bold" textLength="16.60" lengthAdjust="spacingAndGlyphs" >(E)</text>
<text x="340.10" y="204.60" font-size="13" text-anchor="middle" fill="#808080" stroke="#808080" font-weight="bold" >*</text>
<text x="359.90" y="189.20" font-size="13" text-anchor="middle" fill="#808080" stroke="#808080" font-weight="bold" textLength="18.00" lengthAdjust="spacingAndGlyphs" >***</text>
<path d="M419.10 178.60V291.60" stroke="#111" stroke-width="1.35" fill="none"/>
<path d="M418.60 291.10H531.6" stroke="#111" stroke-width="1.35" fill="none"/>
<path d="M415.90 291.10H419.10" stroke="#111" stroke-width="1.25" fill="none"/>
<text x="415.10" y="294.30" font-size="8.4" text-anchor="end" fill="#1a1a1a" stroke="#1a1a1a" font-weight="bold" textLength="4.60" lengthAdjust="spacingAndGlyphs" >0</text>
<path d="M415.90 263.10H419.10" stroke="#111" stroke-width="1.25" fill="none"/>
<text x="415.10" y="266.30" font-size="8.4" text-anchor="end" fill="#1a1a1a" stroke="#1a1a1a" font-weight="bold" textLength="9.20" lengthAdjust="spacingAndGlyphs" >20</text>
<path d="M415.90 235.10H419.10" stroke="#111" stroke-width="1.25" fill="none"/>
<text x="415.10" y="238.30" font-size="8.4" text-anchor="end" fill="#1a1a1a" stroke="#1a1a1a" font-weight="bold" textLength="9.20" lengthAdjust="spacingAndGlyphs" >40</text>
<path d="M415.90 207.10H419.10" stroke="#111" stroke-width="1.25" fill="none"/>
<text x="415.10" y="210.30" font-size="8.4" text-anchor="end" fill="#1a1a1a" stroke="#1a1a1a" font-weight="bold" textLength="9.20" lengthAdjust="spacingAndGlyphs" >60</text>
<path d="M415.90 179.10H419.10" stroke="#111" stroke-width="1.25" fill="none"/>
<text x="415.10" y="182.30" font-size="8.4" text-anchor="end" fill="#1a1a1a" stroke="#1a1a1a" font-weight="bold" textLength="9.20" lengthAdjust="spacingAndGlyphs" >80</text>
<path d="M438.00 291.10V294.10" stroke="#111" stroke-width="1.25" fill="none"/>
<text x="438.20" y="305.10" font-size="8.2" text-anchor="middle" fill="#1a1a1a" stroke="#1a1a1a" font-weight="bold" textLength="19.60" lengthAdjust="spacingAndGlyphs" >1 <tspan font-weight="normal" stroke-width="0.1">µ</tspan>M</text>
<path d="M475.20 291.10V294.10" stroke="#111" stroke-width="1.25" fill="none"/>
<text x="475.40" y="305.10" font-size="8.2" text-anchor="middle" fill="#1a1a1a" stroke="#1a1a1a" font-weight="bold" textLength="23.80" lengthAdjust="spacingAndGlyphs" >10 <tspan font-weight="normal" stroke-width="0.1">µ</tspan>M</text>
<path d="M512.50 291.10V294.10" stroke="#111" stroke-width="1.25" fill="none"/>
<text x="512.70" y="305.10" font-size="8.2" text-anchor="middle" fill="#1a1a1a" stroke="#1a1a1a" font-weight="bold" textLength="28.40" lengthAdjust="spacingAndGlyphs" >100 <tspan font-weight="normal" stroke-width="0.1">µ</tspan>M</text>
<text x="475.60" y="318.70" font-size="10.2" text-anchor="middle" fill="#1a1a1a" stroke="#1a1a1a" font-weight="bold" textLength="24.00" lengthAdjust="spacingAndGlyphs" >[ATP]</text>
<circle cx="430.90" cy="251.40" r="1.95" fill="#0a0a0a"/>
<circle cx="430.90" cy="257.30" r="1.95" fill="#0a0a0a"/>
<circle cx="427.80" cy="274.50" r="1.95" fill="#0a0a0a"/>
<circle cx="433.80" cy="274.50" r="1.95" fill="#0a0a0a"/>
<path d="M426.20 264.40H435.60M430.90 259.00V270.20M428.70 259.00H433.10M428.70 270.20H433.10" stroke="#4a4a4a" stroke-width="0.75" fill="none"/>
<circle cx="468.10" cy="221.40" r="1.95" fill="#0a0a0a"/>
<circle cx="465.00" cy="229.70" r="1.95" fill="#0a0a0a"/>
<circle cx="471.20" cy="229.70" r="1.95" fill="#0a0a0a"/>
<circle cx="468.10" cy="234.40" r="1.95" fill="#0a0a0a"/>
<path d="M463.40 228.00H472.80M468.10 225.60V230.40M465.90 225.60H470.30M465.90 230.40H470.30" stroke="#4a4a4a" stroke-width="0.75" fill="none"/>
<circle cx="504.90" cy="233.20" r="1.95" fill="#0a0a0a"/>
<circle cx="504.90" cy="238.40" r="1.95" fill="#0a0a0a"/>
<circle cx="502.10" cy="243.90" r="1.95" fill="#0a0a0a"/>
<circle cx="508.00" cy="242.70" r="1.95" fill="#0a0a0a"/>
<path d="M500.30 239.20H509.70M505.00 236.80V242.20M502.80 236.80H507.20M502.80 242.20H507.20" stroke="#4a4a4a" stroke-width="0.75" fill="none"/>
<path d="M440.40 272.50H449.80M445.10 268.00V277.50M442.90 268.00H447.30M442.90 277.50H447.30" stroke="#333" stroke-width="0.75" fill="none"/>
<circle cx="445.10" cy="261.50" r="1.7" fill="#fff" fill-opacity="0.6" stroke="#222" stroke-width="0.75"/>
<circle cx="445.10" cy="267.90" r="1.7" fill="#fff" fill-opacity="0.6" stroke="#222" stroke-width="0.75"/>
<circle cx="442.00" cy="280.80" r="1.7" fill="#fff" fill-opacity="0.6" stroke="#222" stroke-width="0.75"/>
<circle cx="447.60" cy="280.30" r="1.7" fill="#fff" fill-opacity="0.6" stroke="#222" stroke-width="0.75"/>
<path d="M477.20 255.30H486.60M481.90 247.50V264.00M479.70 247.50H484.10M479.70 264.00H484.10" stroke="#333" stroke-width="0.75" fill="none"/>
<circle cx="481.90" cy="232.00" r="1.7" fill="#fff" fill-opacity="0.6" stroke="#222" stroke-width="0.75"/>
<circle cx="481.90" cy="260.00" r="1.7" fill="#fff" fill-opacity="0.6" stroke="#222" stroke-width="0.75"/>
<circle cx="478.80" cy="265.70" r="1.7" fill="#fff" fill-opacity="0.6" stroke="#222" stroke-width="0.75"/>
<circle cx="485.20" cy="263.60" r="1.7" fill="#fff" fill-opacity="0.6" stroke="#222" stroke-width="0.75"/>
<path d="M514.40 260.50H523.80M519.10 256.50V265.20M516.90 256.50H521.30M516.90 265.20H521.30" stroke="#333" stroke-width="0.75" fill="none"/>
<circle cx="519.10" cy="249.80" r="1.7" fill="#fff" fill-opacity="0.6" stroke="#222" stroke-width="0.75"/>
<circle cx="519.10" cy="260.50" r="1.7" fill="#fff" fill-opacity="0.6" stroke="#222" stroke-width="0.75"/>
<circle cx="516.10" cy="267.10" r="1.7" fill="#fff" fill-opacity="0.6" stroke="#222" stroke-width="0.75"/>
<circle cx="522.00" cy="264.50" r="1.7" fill="#fff" fill-opacity="0.6" stroke="#222" stroke-width="0.75"/>
<circle cx="429.80" cy="182.10" r="1.95" fill="#0a0a0a"/>
<circle cx="429.80" cy="195.10" r="1.7" fill="#fff" stroke="#222" stroke-width="0.75"/>
<text x="442.80" y="184.70" font-size="7.2" text-anchor="start" fill="#1a1a1a" stroke="#1a1a1a" font-weight="bold" textLength="34.40" lengthAdjust="spacingAndGlyphs" >ATP alone</text>
<text x="442.80" y="197.70" font-size="7.2" text-anchor="start" fill="#1a1a1a" stroke="#1a1a1a" font-weight="bold" textLength="38.20" lengthAdjust="spacingAndGlyphs" >Paroxetine</text>
<text transform="translate(393.7 268.2) rotate(-90)" font-size="9.5" font-weight="bold" fill="#1a1a1a" stroke="#1a1a1a" textLength="42.4" lengthAdjust="spacingAndGlyphs">Decay time</text>
<text transform="translate(393.7 223.4) rotate(-90)" font-size="9.5" font-weight="bold" fill="#1a1a1a" stroke="#1a1a1a" textLength="24.0" lengthAdjust="spacingAndGlyphs"><tspan font-weight="normal" stroke-width="0.1">τ</tspan> (s)</text>
<text x="374.80" y="176.00" font-size="12.0" text-anchor="start" fill="#111" stroke="#111" font-weight="bold" textLength="16.20" lengthAdjust="spacingAndGlyphs" >(F)</text>
<path d="M467.3 215.4V212.4H482.7V215.4" stroke="#111" stroke-width="1.25" fill="none"/>
<text x="475.00" y="212.80" font-size="13" text-anchor="middle" fill="#808080" stroke="#808080" font-weight="bold" textLength="12.40" lengthAdjust="spacingAndGlyphs" >**</text>
</svg>
</body></html>
